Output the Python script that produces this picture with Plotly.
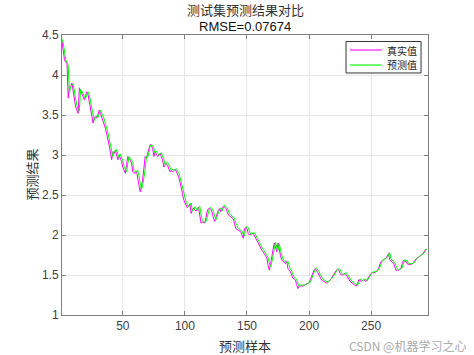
import plotly.graph_objects as go

true_vals = [
    4.42, 4.31, 4.19, 4.16, 4.15, 3.71, 3.84, 3.86, 3.90, 3.80,
    3.67, 3.60, 3.56, 3.52, 3.84, 3.80, 3.77, 3.72, 3.69, 3.74,
    3.79, 3.75, 3.65, 3.55, 3.45, 3.40, 3.46, 3.48, 3.46, 3.50,
    3.56, 3.52, 3.48, 3.44, 3.38, 3.33, 3.27, 3.19, 3.12, 3.03,
    2.94, 3.04, 3.02, 3.06, 3.00, 2.94, 3.00, 2.97, 2.92, 2.85,
    2.80, 2.77, 2.88, 2.98, 2.96, 2.92, 2.90, 2.79, 2.78, 2.77,
    2.80, 2.73, 2.62, 2.54, 2.60, 2.70, 2.81, 2.98, 2.96, 3.02,
    3.10, 3.13, 3.12, 3.08, 2.98, 3.04, 3.01, 2.98, 3.00, 3.02,
    2.98, 2.94, 2.85, 2.88, 2.90, 2.87, 2.82, 2.79, 2.81, 2.79,
    2.80, 2.82, 2.80, 2.77, 2.72, 2.66, 2.60, 2.52, 2.44, 2.40,
    2.37, 2.34, 2.36, 2.39, 2.27, 2.30, 2.34, 2.31, 2.30, 2.33,
    2.35, 2.24, 2.15, 2.16, 2.15, 2.15, 2.22, 2.30, 2.33, 2.33,
    2.32, 2.28, 2.21, 2.17, 2.22, 2.27, 2.31, 2.33, 2.29, 2.33,
    2.36, 2.35, 2.33, 2.29, 2.25, 2.24, 2.23, 2.21, 2.20, 2.14,
    2.08, 2.07, 2.06, 2.05, 2.04, 2.00, 1.96, 2.08, 2.10, 2.08,
    2.02, 2.00, 2.01, 2.02, 2.02, 1.99, 1.96, 1.93, 1.89, 1.85,
    1.83, 1.81, 1.79, 1.76, 1.73, 1.71, 1.62, 1.56, 1.64, 1.75,
    1.82, 1.90, 1.84, 1.79, 1.90, 1.80, 1.74, 1.69, 1.67, 1.65,
    1.64, 1.67, 1.58, 1.56, 1.54, 1.50, 1.46, 1.45, 1.44, 1.38,
    1.33, 1.36, 1.36, 1.37, 1.36, 1.37, 1.38, 1.38, 1.39, 1.40,
    1.44, 1.48, 1.53, 1.56, 1.58, 1.56, 1.53, 1.50, 1.46, 1.44,
    1.43, 1.42, 1.41, 1.40, 1.41, 1.42, 1.44, 1.46, 1.49, 1.52,
    1.54, 1.56, 1.57, 1.56, 1.52, 1.50, 1.50, 1.51, 1.52, 1.50,
    1.48, 1.45, 1.42, 1.41, 1.40, 1.39, 1.37, 1.36, 1.39, 1.44,
    1.43, 1.42, 1.43, 1.44, 1.43, 1.42, 1.45, 1.48, 1.50, 1.52,
    1.53, 1.53, 1.53, 1.54, 1.56, 1.58, 1.63, 1.67, 1.68, 1.69,
    1.70, 1.71, 1.74, 1.77, 1.69, 1.67, 1.66, 1.65, 1.60, 1.56,
    1.56, 1.56, 1.57, 1.58, 1.64, 1.68, 1.67, 1.67, 1.64, 1.63,
    1.63, 1.63, 1.64, 1.65, 1.68, 1.70, 1.71, 1.72, 1.73, 1.74,
    1.76, 1.77, 1.80, 1.82, 1.82,
]

pred_vals = [
    4.45, 4.40, 4.30, 4.19, 4.16, 4.12, 3.78, 3.85, 3.87, 3.89,
    3.80, 3.69, 3.62, 3.57, 3.55, 3.82, 3.80, 3.77, 3.73, 3.71,
    3.75, 3.79, 3.75, 3.66, 3.56, 3.47, 3.43, 3.47, 3.49, 3.47,
    3.51, 3.56, 3.52, 3.49, 3.45, 3.39, 3.34, 3.28, 3.20, 3.13,
    3.05, 2.98, 3.05, 3.03, 3.07, 3.01, 2.96, 3.01, 2.98, 2.93,
    2.86, 2.81, 2.79, 2.89, 2.98, 2.96, 2.93, 2.91, 2.81, 2.79,
    2.79, 2.81, 2.74, 2.64, 2.57, 2.62, 2.71, 2.82, 2.98, 2.97,
    3.03, 3.11, 3.13, 3.12, 3.08, 3.02, 3.05, 3.02, 3.00, 3.01,
    3.03, 2.99, 2.95, 2.88, 2.89, 2.91, 2.88, 2.83, 2.81, 2.82,
    2.81, 2.81, 2.83, 2.81, 2.78, 2.73, 2.67, 2.61, 2.54, 2.46,
    2.41, 2.38, 2.35, 2.37, 2.40, 2.30, 2.31, 2.35, 2.32, 2.31,
    2.34, 2.36, 2.26, 2.18, 2.17, 2.16, 2.17, 2.23, 2.31, 2.34,
    2.34, 2.33, 2.29, 2.22, 2.19, 2.23, 2.28, 2.32, 2.34, 2.30,
    2.34, 2.37, 2.36, 2.34, 2.30, 2.26, 2.25, 2.24, 2.22, 2.21,
    2.15, 2.10, 2.08, 2.07, 2.06, 2.05, 2.01, 1.99, 2.09, 2.11,
    2.09, 2.04, 2.01, 2.02, 2.03, 2.03, 2.00, 1.97, 1.94, 1.90,
    1.86, 1.84, 1.82, 1.80, 1.77, 1.74, 1.72, 1.65, 1.60, 1.66,
    1.76, 1.83, 1.91, 1.85, 1.81, 1.89, 1.81, 1.75, 1.70, 1.68,
    1.66, 1.65, 1.67, 1.60, 1.57, 1.55, 1.51, 1.47, 1.46, 1.45,
    1.40, 1.36, 1.37, 1.37, 1.38, 1.37, 1.38, 1.39, 1.39, 1.40,
    1.41, 1.45, 1.49, 1.54, 1.57, 1.59, 1.57, 1.54, 1.51, 1.47,
    1.45, 1.44, 1.43, 1.42, 1.41, 1.42, 1.43, 1.45, 1.47, 1.50,
    1.53, 1.55, 1.57, 1.58, 1.57, 1.53, 1.51, 1.51, 1.52, 1.53,
    1.51, 1.49, 1.46, 1.43, 1.42, 1.41, 1.40, 1.38, 1.37, 1.40,
    1.45, 1.44, 1.43, 1.44, 1.45, 1.44, 1.43, 1.46, 1.49, 1.51,
    1.53, 1.54, 1.54, 1.54, 1.55, 1.57, 1.59, 1.64, 1.68, 1.69,
    1.70, 1.71, 1.72, 1.75, 1.78, 1.70, 1.68, 1.67, 1.66, 1.61,
    1.58, 1.57, 1.57, 1.58, 1.59, 1.65, 1.69, 1.68, 1.68, 1.65,
    1.64, 1.64, 1.64, 1.65, 1.66, 1.69, 1.71, 1.72, 1.73, 1.74,
    1.75, 1.77, 1.78, 1.81, 1.83,
]

samples = list(range(1, len(true_vals) + 1))

series_names = ["真实值", "预测值"]
series_colors = ["#ff00ff", "#00ff00"]
title_line1 = "测试集预测结果对比"
title_line2 = "RMSE=0.07674"
x_label = "预测样本"
y_label = "预测结果"
x_ticks = [50, 100, 150, 200, 250]
y_ticks = [1, 1.5, 2, 2.5, 3, 3.5, 4, 4.5]
y_tick_text = ["1", "1.5", "2", "2.5", "3", "3.5", "4", "4.5"]
watermark = "CSDN @机器学习之心"

cjk = "Noto Sans CJK SC"
latin = "Liberation Sans, Arial, sans-serif"

fig = go.Figure()
fig.add_trace(go.Scatter(x=samples, y=true_vals, mode="lines", name=series_names[0],
                         line=dict(color=series_colors[0], width=1.0)))
fig.add_trace(go.Scatter(x=samples, y=pred_vals, mode="lines", name=series_names[1],
                         line=dict(color=series_colors[1], width=1.0)))

axis_common = dict(
    showline=True, linecolor="#7f7f7f", linewidth=1, mirror="ticks",
    ticks="inside", ticklen=4, tickcolor="#7f7f7f",
    showgrid=True, gridcolor="#e6e6e6", gridwidth=1, zeroline=False,
    tickfont=dict(family=latin, size=12, color="#404040"),
)

# compact MATLAB-style legend box (paper coordinates)
leg_box = dict(x0=0.776, x1=0.981, y0=0.8643, y1=0.9768)
leg_rows_y = [0.9464, 0.8929]
leg_line_x = (0.787, 0.874)
leg_text_x = 0.886

shapes = [dict(type="rect", xref="paper", yref="paper", **leg_box,
               line=dict(color="#333333", width=1), fillcolor="white", layer="above")]
legend_annots = []
for name, color, ry in zip(series_names, series_colors, leg_rows_y):
    shapes.append(dict(type="line", xref="paper", yref="paper",
                       x0=leg_line_x[0], x1=leg_line_x[1], y0=ry, y1=ry,
                       line=dict(color=color, width=1.1), layer="above"))
    legend_annots.append(dict(text=name, x=leg_text_x, y=ry, xref="paper", yref="paper",
                              xanchor="left", yanchor="middle", showarrow=False,
                              borderpad=0, font=dict(family=cjk, size=10, color="#222222")))

fig.update_layout(
    width=474, height=355,
    margin=dict(l=62, r=46, t=35, b=40),
    paper_bgcolor="white", plot_bgcolor="white",
    showlegend=False,
    xaxis=dict(range=[1, 295.8], tickvals=x_ticks, **axis_common),
    yaxis=dict(range=[1, 4.5], tickvals=y_ticks, ticktext=y_tick_text, **axis_common),
    shapes=shapes,
    annotations=[
        dict(text=title_line1, x=0.5, y=1, xref="paper", yref="paper", xanchor="center",
             yanchor="bottom", yshift=14, showarrow=False,
             font=dict(family=cjk, size=13, color="#333333")),
        dict(text=title_line2, x=0.5, y=1, xref="paper", yref="paper", xanchor="center",
             yanchor="bottom", yshift=-1, showarrow=False,
             font=dict(family=latin, size=13, color="#111111")),
        dict(text=x_label, x=0.5, y=0, xref="paper", yref="paper", xanchor="center",
             yanchor="top", yshift=-19, showarrow=False,
             font=dict(family=cjk, size=13, color="#333333")),
        dict(text=y_label, x=0, y=0.5, xref="paper", yref="paper", xanchor="right",
             yanchor="middle", xshift=-20, textangle=-90, showarrow=False,
             font=dict(family=cjk, size=13, color="#333333")),
        dict(text=watermark, x=1, y=0, xref="paper", yref="paper", xanchor="right",
             yanchor="top", xshift=40, yshift=-20, showarrow=False,
             font=dict(family=cjk, size=12, color="#aaaaaa")),
    ] + legend_annots,
)

fig.write_html("out.html", config={"displayModeBar": False},
               post_script="document.body.style.margin='0';")
